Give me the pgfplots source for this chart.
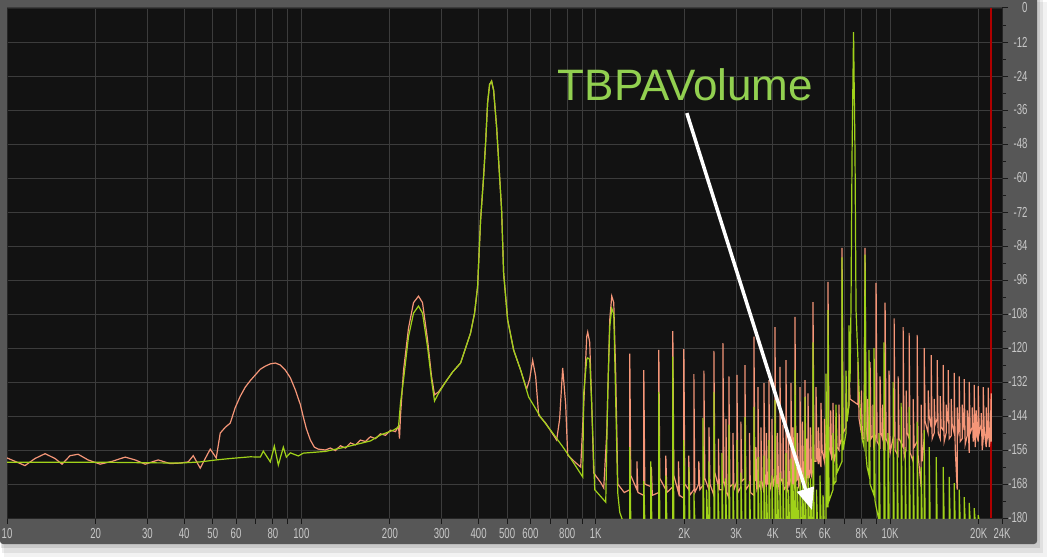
\documentclass[border=0pt]{standalone}
\usepackage{fontspec}
\setmainfont{Liberation Sans}
\newfontfamily\tickfont[FakeStretch=0.66]{Liberation Sans}
\usepackage{pgfplots}
\pgfplotsset{compat=1.18}
\usetikzlibrary{arrows.meta}
\definecolor{framegray}{RGB}{87,87,87}
\definecolor{plotbg}{RGB}{18,18,18}
\definecolor{gridgray}{RGB}{60,60,60}
\definecolor{labelgray}{RGB}{200,200,200}
\definecolor{specorange}{RGB}{245,150,120}
\definecolor{specgreen}{RGB}{160,210,25}
\definecolor{titlegreen}{RGB}{146,208,80}
\definecolor{nyqred}{RGB}{175,0,0}

\begin{document}
\begin{tikzpicture}
\useasboundingbox (0pt,0pt) rectangle (1048pt,558pt);
\fill[white] (0pt,0pt) rectangle (1048pt,558pt);
% soft shadow and panel
\fill[black,opacity=0.05] (4pt,1pt) rectangle (1047pt,556pt);
\fill[black,opacity=0.07] (2pt,5pt) rectangle (1043pt,558pt);
\fill[black,opacity=0.10] (1pt,10pt) rectangle (1040pt,558pt);
\fill[framegray, rounded corners=3pt] (0pt,14pt) rectangle (1037pt,564pt);

\begin{axis}[
  at={(7pt,40pt)}, anchor=south west,
  scale only axis, width=995pt, height=510pt,
  xmode=log, xmin=10, xmax=24000, ymin=-180, ymax=0,
  axis background/.style={fill=plotbg},
  axis line style={draw=black!85, line width=0.8pt},
  grid=major, major grid style={draw=gridgray, line width=1pt},
  xtick={10,20,30,40,50,60,70,80,90,100,200,300,400,500,600,700,800,900,1000,2000,3000,4000,5000,6000,7000,8000,9000,10000,20000,24000},
  xticklabels={10,20,30,40,50,60,{},80,{},100,200,300,400,500,600,{},800,{},1K,2K,3K,4K,5K,6K,{},8K,{},10K,20K,24K},
  minor xtick={},
  ytick={-180,-168,...,0},
  yticklabels={-180,-168,-156,-144,-132,-120,-108,-96,-84,-72,-60,-48,-36,-24,-12,0},
  minor ytick={-174,-162,...,-6},
  xtick pos=left, ytick pos=right,
  tick align=outside,
  major tick length=6pt, minor tick length=4pt,
  tick style={draw=black!90, line width=1pt},
  ticklabel style={font=\tickfont\fontsize{14.5}{14.5}\selectfont, text=labelgray},
  xticklabel style={yshift=-1pt},
  yticklabel style={anchor=east, xshift=23pt},
]
% Nyquist marker
\addplot[nyqred, line width=1.5pt] coordinates {(22050,-180) (22050,0)};

% orange trace
\addplot[specorange, line width=1.2pt] coordinates {
(10,-158.8) (10.65,-160) (11.51,-161.5) (12.45,-159) (13.47,-157.3) (14.56,-159) (15.38,-161) (16.38,-158) (17.44,-157.5) (18.86,-159.5) (20.72,-161) (22.76,-160) (25.20,-158.5) (27.25,-159.5) (29.47,-161) (32.63,-159.5) (35.84,-160.8) (38.76,-160.6) (41.27,-160.2) (42.92,-158) (45.34,-162.4) (47.15,-159) (49.03,-155.7) (51.39,-158.8) (53.02,-150) (55.14,-148) (57.34,-146.5) (59.63,-141) (62.02,-137) (64.49,-133.8) (67.07,-131.5) (69.75,-129.5) (72.53,-127.5) (75.43,-126.4) (78.44,-125.6) (81.57,-125.3) (84.83,-126) (88.22,-127.8) (91.74,-130.5) (95.41,-134.8) (99.22,-140) (101.58,-144.4) (103.99,-148.5) (107.30,-152.5) (110.72,-155) (114.24,-155.7) (120.68,-156) (125.50,-155.3) (130.51,-156.2) (135.72,-154.5) (141.15,-155.3) (146.78,-153.5) (152.64,-154.2) (158.74,-152.5) (165.08,-153) (171.67,-151.3) (178.53,-152) (185.66,-150.3) (193.07,-150.8) (200.78,-149) (208.80,-149.5) (213.76,-147.5) (215.44,-152) (217.14,-144) (222.30,-128) (231.18,-113) (240.41,-104) (250.01,-101.7) (257.97,-104) (268.27,-117) (276.81,-130) (283.39,-136.5) (292.41,-135.5) (308.88,-132) (326.29,-128.5) (347.39,-125.3) (361.26,-120) (375.69,-114.7) (387.64,-107.7) (396.86,-98.5) (406.29,-74.8) (415.95,-59.6) (422.52,-47.7) (429.19,-33.5) (435.96,-27) (442.84,-25.8) (449.83,-29) (460.53,-42) (467.80,-53.7) (478.92,-71.3) (486.48,-93.5) (501.96,-110) (526.11,-120.7) (555.76,-127.8) (582.50,-134.5) (596.35,-131) (610.52,-124.3) (625.04,-130) (639.90,-143.7) (675.96,-146.5) (736.77,-152.5) (754.29,-145) (772.22,-127) (790.58,-140) (803.06,-157.8) (854.98,-160.5) (889.13,-162) (910.27,-140) (931.91,-116) (939.24,-114.4) (954.06,-118) (969.12,-140) (984.42,-164.1) (1039.94,-167.5) (1064.67,-169.4) (1090.0,-150) (1115.9,-110) (1133.5,-101.7) (1151.4,-104) (1169.6,-130) (1188.0,-168) (1250,-171)
(1305.1,-170) (1305.1,-122) (1315.4,-165)
(1380,-170) (1380,-160) (1391,-171)
(1456.4,-172) (1456.4,-127.8) (1467.9,-168)
(1545,-169) (1545,-162) (1557,-172)
(1637.9,-171) (1637.9,-120.7) (1650.8,-166)
(1730,-170) (1730,-158) (1744,-171)
(1827.7,-169) (1827.7,-114) (1842.1,-165)
(1910,-171) (1910,-160) (1925,-172)
(1992.1,-173) (1992.1,-120.4) (2007.8,-168)
(2070,-170) (2070,-158) (2086,-172)
(2154.4,-170) (2154.4,-129.2) (2171.3,-171)
(2240,-168) (2240,-160) (2258,-170)
(2330.0,-168) (2330.0,-128) (2348.3,-166)
(2425,-170) (2425,-148) (2444,-168)
(2519.8,-172) (2519.8,-121) (2539.6,-164)
(2610,-169) (2610,-152) (2630,-170)
(2703.8,-170) (2703.8,-118.3) (2725.1,-167)
(2768,-170) (2768,-145) (2790,-171)
(2833.9,-173) (2833.9,-130) (2856.2,-169)
(2925,-168) (2925,-150) (2948,-170)
(3017.1,-167) (3017.1,-129.5) (3040.8,-171)
(3112,-169) (3112,-146) (3136,-167)
(3212.2,-166) (3212.2,-126) (3237.5,-170)
(3328,-168) (3328,-150) (3354,-171)
(3446.8,-172) (3446.8,-116) (3473.9,-165)
(3500,-167) (3500,-155) (3527,-170)
(3556.4,-169) (3556.4,-133.8) (3584.4,-168)
(3640,-170) (3640,-148) (3669,-167)
(3727.6,-171) (3727.6,-132.4) (3756.9,-166)
(3800,-169) (3800,-150) (3830,-168)
(3876.4,-168) (3876.4,-131.3) (3906.9,-170)
(3968,-167) (3968,-145) (3999,-169)
(4062.9,-165) (4062.9,-112.6) (4094.8,-168)
(4143,-170) (4143,-150) (4176,-167)
(4225.2,-172) (4225.2,-126.7) (4258.4,-166)
(4325,-168) (4325,-147) (4359,-170)
(4428.4,-169) (4428.4,-124.3) (4463.2,-171)
(4515,-167) (4515,-152) (4550,-168)
(4605.3,-166) (4605.3,-132.4) (4641.5,-169)
(4677,-168) (4677,-148) (4714,-166)
(4751.9,-170) (4751.9,-109) (4789.3,-167)
(4845,-166) (4845,-150) (4883,-169)
(4941.6,-168) (4941.6,-133.8) (4980.5,-165)
(5040,-167) (5040,-146) (5080,-168)
(5139.0,-166) (5139.0,-131.3) (5179.4,-169)
(5200,-165) (5200,-152) (5241,-166)
(5261.1,-164) (5261.1,-136) (5302.5,-166)
(5365,-163) (5365,-148) (5407,-165)
(5471.3,-163) (5471.3,-103.8) (5514.3,-160)
(5601.3,-160) (5601.3,-133.8) (5645.5,-158)
(5710,-161) (5710,-148) (5755,-159)
(5825.0,-162) (5825.0,-139.4) (5871.0,-156)
(5985,-160) (5985,-145) (6032,-158)
(6153.2,-160) (6153.2,-96.7) (6201.8,-155)
(6280,-157) (6280,-142) (6330,-159)
(6399.0,-158) (6399.0,-139.4) (6449.5,-160)
(6551.1,-157) (6551.1,-144.4) (6602.8,-155)
(6700,-156) (6700,-140) (6753,-154)
(6866.3,-152) (6866.3,-84.7) (6920.5,-150)
(7084.8,-148) (7084.8,-136) (7140.7,-145)
(7253.2,-140) (7253.2,-128) (7310.5,-138)
(7782.9,-140) (7782.9,-125) (7844.3,-145)
(7990,-150) (7990,-135) (8053,-152)
(8157.4,-152) (8221.6,-84.7) (8286.5,-148)
(8390,-153) (8390,-138) (8456,-150)
(8549.8,-155) (8549.8,-125) (8617.3,-152)
(8740,-151) (8740,-140) (8810,-156)
(8961.2,-150) (8961.2,-97) (9032.0,-153)
(9246.4,-155) (9246.4,-130) (9319.4,-150)
(9430,-152) (9430,-140) (9505,-156)
(9615.6,-156) (9615.6,-104) (9691.5,-152)
(9921.6,-155) (9921.6,-128) (9999.9,-157)
(10318.3,-150) (10318.3,-109.5) (10399.8,-156)
(10646.7,-158) (10646.7,-130) (10730.8,-152)
(11071.8,-155) (11071.8,-112.6) (11159.2,-158.5)
(11335.1,-156) (11335.1,-135) (11424.6,-150)
(11604.6,-152) (11604.6,-114.7) (11696.2,-157)
(11973.9,-160) (11973.9,-138) (12068.4,-155)
(12355.0,-153) (12355.0,-115.4) (12452.5,-158)
(12748.1,-169) (12748.1,-140) (12848.7,-160)
(13051.2,-152) (13051.2,-120) (13154.3,-146)
(13466.5,-150) (13466.5,-135) (13572.4,-144)
(13786.8,-148) (13786.8,-122.5) (13895.6,-152)
(14114.6,-150) (14114.6,-138) (14226.0,-147)
(14450.1,-145) (14450.1,-124.3) (14564.2,-150)
(14793.5,-152) (14793.5,-137) (14910.3,-148)
(15145.2,-149) (15145.2,-126) (15264.8,-153)
(15505.3,-150) (15505.3,-140) (15627.7,-145)
(15750.1,-146) (15750.1,-127.8) (15874.0,-152)
(16124.4,-151) (16124.4,-138) (16251.7,-147)
(16507.8,-150) (16507.8,-128.8) (16638.1,-155)
(16900.2,-170) (16900.2,-141) (17033.6,-150)
(17167.1,-148) (17167.1,-130) (17302.6,-153)
(17575.1,-152) (17575.1,-140) (17713.8,-146)
(17852.6,-149) (17852.6,-131) (17993.5,-154)
(18277.0,-151) (18277.0,-142) (18421.3,-147)
(18565.6,-157) (18565.6,-132) (18712.2,-150)
(19006.8,-148) (19006.8,-141) (19156.8,-153)
(19306.9,-150) (19306.9,-133) (19459.3,-155)
(19611.7,-148) (19611.7,-142) (19766.5,-151)
(19921.4,-153) (19921.4,-133.5) (20078.7,-150)
(20394.9,-147) (20394.9,-143) (20555.9,-156)
(20716.9,-152) (20716.9,-133.8) (20880.4,-149)
(21209.5,-155) (21209.5,-141) (21377.0,-152)
(21544.3,-150) (21544.3,-134) (21714.4,-155)
(21884.3,-152) (22056.4,-136) (22056.4,-153)
};

% green trace
\addplot[specgreen, line width=1.2pt] coordinates {
(10,-160.3) (20.72,-160.3) (29.47,-160.5) (38.76,-160.6) (45.34,-160.2) (51.39,-159.5) (57.34,-159) (62.02,-158.7) (67.07,-158.4) (72.53,-158.5) (74.26,-156.4) (78.44,-160.2) (80.94,-154.6) (83.51,-161.3) (86.85,-155) (88.91,-158.5) (91.74,-157) (97.67,-158.1) (101.58,-157.1) (120.68,-156.5) (143.37,-154.8) (171.67,-152.8) (185.66,-150.7) (205.55,-149) (213.76,-147.9) (217.14,-139.4) (222.30,-131.3) (231.18,-116) (240.41,-107.7) (250.01,-105.2) (257.97,-107.7) (268.27,-119.6) (276.81,-131.3) (283.39,-138.7) (292.41,-136) (308.88,-132) (326.29,-128.5) (347.39,-125.3) (361.26,-120) (375.69,-114.7) (387.64,-107.7) (396.86,-98.5) (406.29,-74.8) (415.95,-59.6) (422.52,-47.7) (429.19,-33.5) (435.96,-27) (442.84,-25.8) (449.83,-29) (460.53,-42) (467.80,-53.7) (478.92,-71.3) (486.48,-93.5) (501.96,-110) (526.11,-120.7) (555.76,-127.8) (591.70,-137.3) (650.00,-144.4) (714.05,-150) (778.29,-155.3) (841.70,-160.6) (903.16,-165.5) (910.27,-136) (931.91,-124) (939.24,-123.5) (954.06,-124) (969.12,-140) (992.16,-170) (1081.47,-174.4) (1098.5,-136) (1115.9,-112.6) (1133.5,-106) (1151.4,-108) (1160.5,-123.5) (1188.0,-171.2) (1206.8,-178) (1235.5,-181)
(1305.1,-181) (1305.1,-155) (1315.4,-181)
(1456.4,-181) (1456.4,-167) (1467.9,-181)
(1538.4,-181) (1538.4,-160) (1550.5,-181)
(1637.9,-181) (1637.9,-135.5) (1650.8,-181)
(1730.2,-181) (1730.2,-165) (1743.8,-181)
(1827.7,-181) (1827.7,-123) (1842.1,-181)
(1992.1,-181) (1992.1,-152.5) (2007.8,-181)
(2071.7,-181) (2071.7,-162) (2088.0,-181)
(2154.4,-181) (2154.4,-171) (2171.3,-181)
(2311.8,-181) (2311.8,-144.7) (2330.0,-181)
(2380,-181) (2380,-170) (2399,-181)
(2423.0,-181) (2423.0,-160) (2442.1,-181)
(2519.8,-181) (2519.8,-135.5) (2539.6,-181)
(2600,-181) (2600,-168) (2621,-181)
(2682.7,-181) (2682.7,-157) (2703.8,-181)
(2760,-181) (2760,-166) (2782,-181)
(2833.9,-181) (2833.9,-147) (2856.2,-181)
(2925,-181) (2925,-168) (2948,-181)
(3017.1,-181) (3017.1,-152.5) (3040.8,-181)
(3112,-181) (3112,-164) (3136,-181)
(3212.2,-181) (3212.2,-144.4) (3237.5,-181)
(3328,-181) (3328,-167) (3354,-181)
(3446.8,-181) (3446.8,-140.8) (3473.9,-181)
(3556.4,-181) (3556.4,-158.5) (3584.4,-181)
(3640,-181) (3640,-167) (3669,-181)
(3727.6,-181) (3727.6,-158) (3756.9,-181)
(3800,-181) (3800,-169) (3830,-181)
(3876.4,-181) (3876.4,-152.5) (3906.9,-181)
(3968,-181) (3968,-165) (3999,-181)
(4062.9,-181) (4062.9,-138.4) (4094.8,-181)
(4143,-181) (4143,-168) (4176,-181)
(4225.2,-181) (4225.2,-164) (4258.4,-181)
(4325,-181) (4325,-166) (4359,-181)
(4428.4,-181) (4428.4,-157) (4463.2,-181)
(4515,-181) (4515,-170) (4550,-181)
(4605.3,-181) (4605.3,-159) (4641.5,-181)
(4677,-181) (4677,-168) (4714,-181)
(4751.9,-181) (4751.9,-127.8) (4789.3,-181)
(4845,-181) (4845,-169) (4883,-181)
(4941.6,-181) (4941.6,-166) (4980.5,-181)
(5040,-181) (5040,-164) (5080,-181)
(5139.0,-181) (5139.0,-137.3) (5179.4,-181)
(5261.1,-181) (5261.1,-165) (5302.5,-181)
(5365,-181) (5365,-166) (5407,-181)
(5471.3,-181) (5471.3,-118) (5514.3,-181)
(5620,-181) (5620,-170) (5664,-181)
(5779.5,-181) (5779.5,-165) (5825.0,-181)
(5920,-181) (5920,-172) (5966,-181)
(6057.6,-181) (6057.6,-129) (6105.2,-176)
(6153.2,-176) (6153.2,-106.6) (6201.8,-174)
(6399.0,-170) (6399.0,-150) (6449.5,-168)
(6551.1,-167) (6551.1,-140) (6602.8,-164)
(6866.3,-160) (6866.3,-88) (6920.5,-156)
(7084.8,-150) (7084.8,-128) (7140.7,-146)
(7253.2,-140) (7253.2,-112) (7310.5,-132)
(7367.7,-104) (7425.7,-52) (7513.3,-8.5) (7602.2,-52) (7662.0,-106.6) (7782.9,-125)
(7844.3,-135) (8030.6,-152)
(8157.4,-155) (8221.6,-87) (8286.1,-158) (8351.3,-162)
(8483.1,-165) (8483.1,-120.7) (8549.8,-168)
(8822.0,-172) (8822.0,-120) (8891.3,-174)
(8961.2,-176) (9174.2,-181)
(9174.2,-150) (9246.4,-181)
(9540.6,-181) (9540.6,-118) (9615.6,-181)
(9844.2,-181) (9844.2,-150) (9921.6,-181)
(10237.8,-181) (10237.8,-132) (10318.3,-181)
(10563.6,-181) (10563.6,-152) (10646.7,-181)
(10899.7,-181) (10899.7,-139.4) (10985.4,-181)
(11246.6,-181) (11246.6,-155) (11335.1,-181)
(11604.6,-181) (11604.6,-140.8) (11696.2,-181)
(11973.9,-181) (11973.9,-158) (12068.4,-181)
(12355.0,-181) (12355.0,-146) (12452.5,-181)
(12748.1,-181) (12748.1,-162) (12848.7,-181)
(13051.2,-181) (13051.2,-149) (13154.3,-181)
(13572.4,-181) (13572.4,-155) (13679.6,-181)
(14337.4,-181) (14337.4,-158.5) (14450.1,-181)
(15145.2,-181) (15145.2,-162) (15264.8,-181)
(15874.0,-181) (15874.0,-165.5) (15999.0,-181)
(16507.8,-181) (16507.8,-167.7) (16638.1,-181)
(17167.1,-181) (17167.1,-170) (17302.6,-181)
(17852.6,-181) (17852.6,-172.6) (17993.5,-181)
(18565.6,-181) (18565.6,-174.7) (18712.2,-181)
(19306.9,-181) (19306.9,-176.5) (19459.3,-181)
(19921.4,-181) (19921.4,-179) (20078.7,-181)
};

% annotation
\node[anchor=base west, text=titlegreen, font=\fontsize{44}{48}\selectfont, inner sep=0pt] at (axis cs:742.6,-32.5) {TBPAVolume};
\draw[white, line width=3.5pt, -{Triangle[length=22pt,width=17pt]}] (axis cs:2039.5,-37.1) -- (axis cs:5428.6,-177.2);
\end{axis}
\end{tikzpicture}
\end{document}
